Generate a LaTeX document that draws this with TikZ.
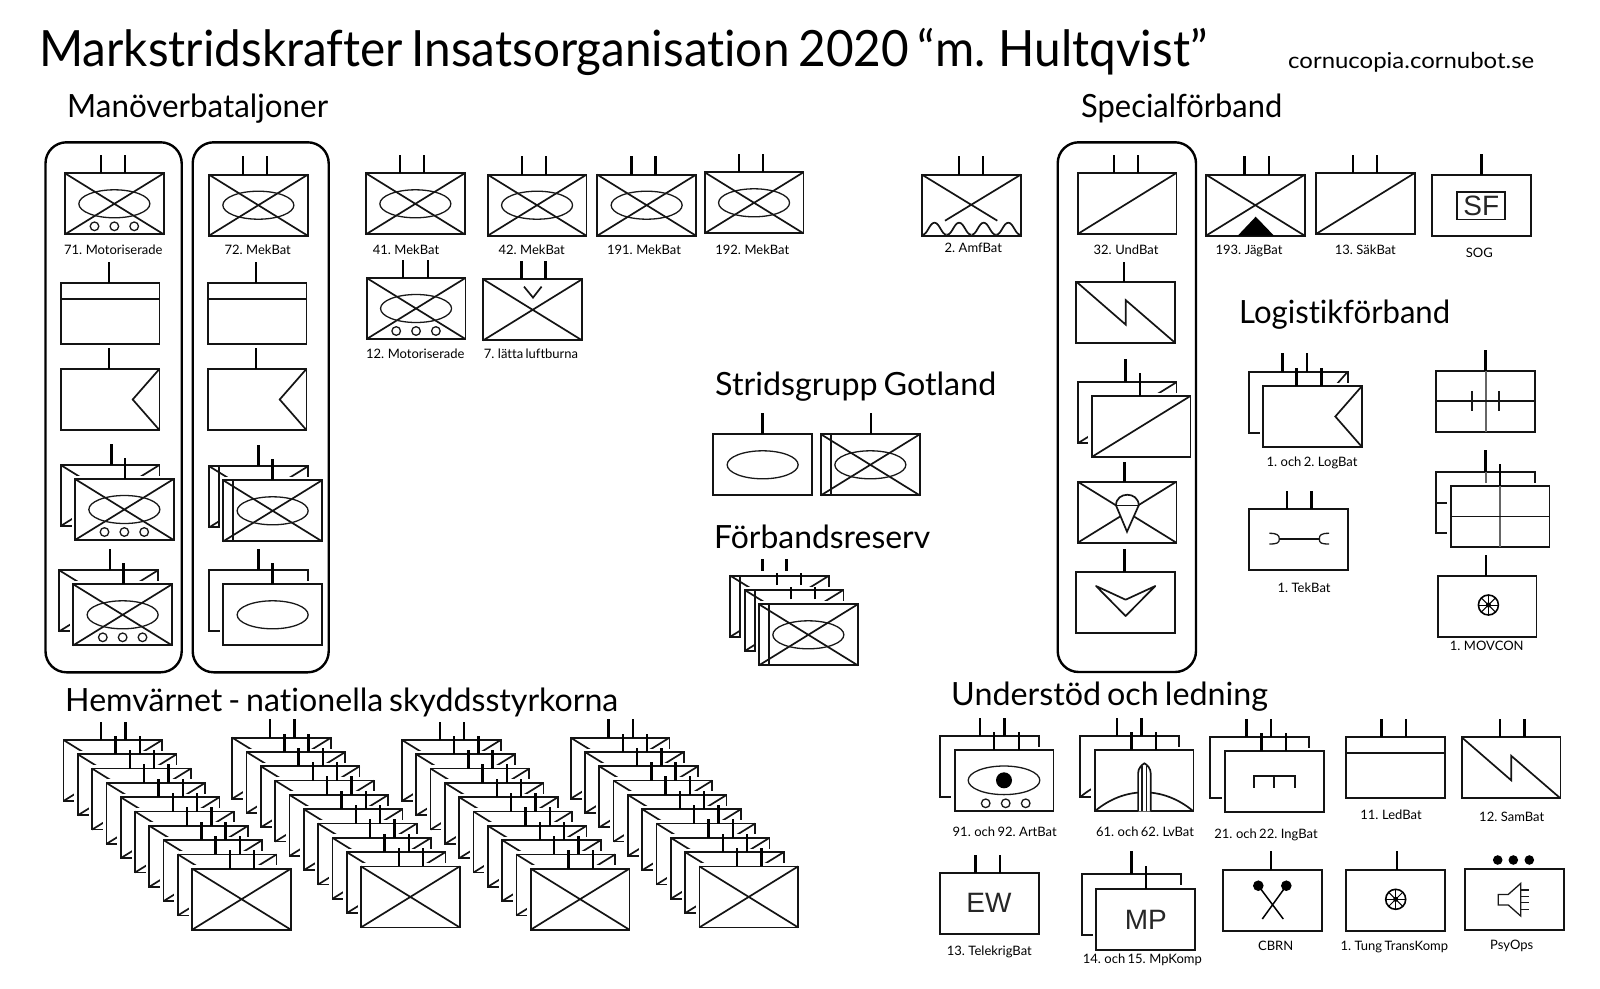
\documentclass[tikz,border=0pt]{standalone}
\usepackage{fontspec}
\usepackage{graphicx}
\setmainfont[Ligatures=CommonOff,WordSpace=0.72]{Lato}
\newfontfamily\arl{Liberation Sans}
\tikzset{
  ln/.style={line width=1.7pt,black!92,line join=miter},
  thn/.style={line width=1.3pt,black!90},
  tk/.style={line width=2.4pt,black},
  lb/.style={inner sep=0pt,anchor=base,font=\fontsize{13}{15}\selectfont},
  cont/.style={line width=2.4pt,black,rounded corners=21pt},
  syt/.style={font=\arl\fontsize{28}{30}\selectfont,inner sep=0pt,text=black!85}
}
\newcommand{\ubox}{\draw[ln,fill=white] (0,0) rectangle (98.7,61);}
\newcommand{\hal}{\fill[white] (-3.5,-3.5) rectangle (102.2,64.5);}
\newcommand{\xxx}{\draw[ln] (0,0)--(98.7,61) (98.7,0)--(0,61);}
\newcommand{\ovl}{\draw[thn] (49.35,30.5) ellipse [x radius=35.5,y radius=14];}
\newcommand{\whl}{\draw[thn] (29.5,53) circle [radius=4.3] (49.35,53) circle [radius=4.3] (69.2,53) circle [radius=4.3];}
\newcommand{\vbr}{\draw[ln] (10,0)--(10,61);}
\newcommand{\hbr}{\draw[ln] (0,16)--(98.7,16);}
\newcommand{\dgl}{\draw[ln] (0,61)--(98.7,0);}
\newcommand{\ntc}{\draw[ln] (98.7,0)--(72,30.5)--(98.7,61);}
\newcommand{\sgnl}{\draw[ln] (0,0)--(49.5,43)--(49.5,18.5)--(98.7,61);}
\newcommand{\grd}{\draw[ln,black!60] (49.35,0)--(49.35,61);\draw[ln] (0,30.5)--(98.7,30.5);}
\newcommand{\tkk}[1]{\draw[tk] (#1,0)--(#1,-18.5);}
\newcommand{\tks}[1]{\draw[tk] (#1,0)--(#1,-21);}
\newcommand{\tkn}[2]{\draw[tk] (#1,0)--(#1,-#2);}
\newcommand{\tkl}[1]{\draw[tk] (#1,-5)--(#1,-17);}
\newcommand{\whe}[2]{\begin{scope}[shift={(#1,#2)}]
  \draw[line width=1.6pt] (0,0) circle [radius=10];
  \foreach \a in {0,45,...,315} \draw[line width=1pt] (0,0)--(\a:10pt);
  \fill (0,0) circle [radius=2.6];
  \end{scope}}
% a symbol, and a symbol standing in front of another one
\newcommand{\Sym}[3]{\begin{scope}[shift={(#1,#2)}]\ubox #3\end{scope}}
\newcommand{\Fro}[3]{\begin{scope}[shift={(#1,#2)}]\hal\ubox #3\end{scope}}
\newcommand{\lab}[4]{\node[lb] (#1) at (#2,#3) {#4};}
\newcommand{\ttl}[6]{\node[inner sep=0pt,anchor=base west] (#1) at (#2,#3) {\resizebox{#4pt}{\height}{\fontsize{#5}{#5}\selectfont #6}};}
\begin{document}
\begin{tikzpicture}[x=1pt,y=-1pt]
\useasboundingbox (0,0) rectangle (1600,988);
\fill[white] (0,0) rectangle (1600,988);

% ---- titles
\ttl{title}{39}{66.5}{1168}{50}{Markstridskrafter Insatsorganisation 2020 “m. Hultqvist”}
\ttl{site}{1288}{68}{246}{22}{cornucopia.cornubot.se}
\ttl{manov}{67}{117}{261}{32}{Manöverbataljoner}
\ttl{spec}{1081}{117}{201}{32}{Specialförband}
\ttl{logi}{1239}{323.5}{211}{32}{Logistikförband}
\ttl{strid}{715}{395}{281}{32}{Stridsgrupp Gotland}
\ttl{forb}{714}{548.5}{216}{32}{Förbandsreserv}
\ttl{hemv}{65}{711}{553}{32}{Hemvärnet - nationella skyddsstyrkorna}
\ttl{unde}{951}{705}{317}{32}{Understöd och ledning}

% ---- containers
\draw[cont] (45.5,142.3) rectangle (181.7,672.3);
\draw[cont] (192.7,142.3) rectangle (328.7,672.3);
\draw[cont] (1057.7,142.3) rectangle (1196,672);

% ---- column 1
\Sym{65}{173.3}{\xxx\ovl\whl\tkk{36}\tkk{60}}
\lab{l71}{113.3}{254}{71. Motoriserade}
\Sym{60.7}{283.3}{\hbr\tks{48.5}}
\Sym{60.7}{369}{\ntc\tks{48.5}}
\Sym{60.7}{465}{\xxx\tks{50.6}}
\Fro{75}{479}{\xxx\ovl\whl\tks{50}}
\Sym{59.3}{570.3}{\xxx\tks{50.6}}
\Fro{73.3}{584.3}{\xxx\ovl\whl\tks{50}}

% ---- column 2
\Sym{209}{174.7}{\xxx\ovl\tkk{34}\tkk{58}}
\lab{l72}{257.7}{254}{72. MekBat}
\Sym{207.7}{283.3}{\hbr\tks{48.5}}
\Sym{207.7}{369}{\ntc\tks{48.5}}
\Sym{209.3}{466.3}{\xxx\vbr\tks{49}}
\Fro{223.3}{480.3}{\xxx\vbr\ovl\tks{49}}
\Sym{209.3}{570.3}{\ovl\tks{49}}
\Fro{223.3}{584.3}{\ovl\tks{49}}

% ---- middle block
\Sym{366}{173.3}{\xxx\ovl\tkk{34}\tkk{58}}
\lab{l41}{406}{254}{41. MekBat}
\Sym{487.7}{174.7}{\xxx\ovl\tkk{34}\tkk{58}}
\lab{l42}{531.7}{254}{42. MekBat}
\Sym{597.3}{174.7}{\xxx\ovl\tkk{34}\tkk{58}}
\lab{l191}{644}{254}{191. MekBat}
\Sym{704.7}{172.3}{\xxx\ovl\tkk{34}\tkk{58}}
\lab{l192}{752.3}{254}{192. MekBat}
\Sym{366.7}{278}{\xxx\ovl\whl\tkk{36.5}\tkk{61}}
\lab{l12}{415.3}{358.3}{12. Motoriserade}
\Sym{483.3}{279.3}{\xxx\draw[ln] (40.7,7.3)--(49.7,18.3)--(58.3,7.3);\tkk{38}\tkk{62}}
\lab{l7}{531}{358.3}{7. lätta luftburna}

% ---- Gotland
\Sym{713.3}{434.3}{\ovl\tks{49}}
\Sym{821}{434.3}{\xxx\vbr\ovl\tks{50}}

% ---- reserve
\Sym{730.3}{575.7}{\xxx\vbr\tkl{32}\tkl{56}}
\Fro{744.7}{590}{\xxx\vbr\tkl{32}\tkl{56}}
\Fro{759}{604.3}{\xxx\vbr\ovl\tkl{32}\tkl{56}}

% ---- special column
\Sym{922}{174.7}{
  \draw[ln] (0,0)--(75.3,46) (98.7,0)--(23,46);
  \foreach \k in {0,1,2,3} {
    \begin{scope}[shift={(\k*24.6+0.5,0)}]
      \draw[ln] (0,60) .. controls (5,60) and (7,48) .. (12,48) .. controls (17,48) and (19,60) .. (24,60);
    \end{scope}}
  \tkk{36.7}\tkk{60.7}}
\lab{l2}{973.3}{252.5}{2. AmfBat}
\Sym{1077.7}{173}{\dgl\tkk{36}\tkk{60}}
\lab{l32}{1126}{254}{32. UndBat}
\Sym{1076.3}{281.7}{\sgnl\tkn{47.7}{20}}
\Sym{1077.7}{382.3}{\dgl\tkn{47.7}{23.5}}
\Fro{1091.7}{396}{\dgl\tkn{48}{23.5}}
\Sym{1077.7}{481.7}{\xxx
  \draw[ln,fill=white] (38.3,23.7) .. controls (38.3,9.5) and (61,9.5) .. (61,23.7) -- (49.3,50) -- cycle;
  \draw[ln] (38.3,23.7)--(61,23.7);
  \tkn{46.7}{20}}
\Sym{1076.3}{571.7}{\draw[ln,line join=round] (19.7,14.3)--(49.3,44.3)--(79,14.3)--(49.3,28)--cycle;\tkn{48}{23}}

% ---- right of column
\Sym{1206}{174.7}{\xxx\fill (49.7,42)--(31.7,61)--(68,61)--cycle;\tkk{38.3}\tkk{62.7}}
\lab{l193}{1249}{254.5}{193. JägBat}
\Sym{1316}{173}{\dgl\tkk{36.7}\tkk{60.7}}
\lab{l13}{1365.3}{254.5}{13. SäkBat}
\Sym{1432}{174.7}{\draw[ln] (25.3,17) rectangle (73.3,44.7);\node[syt] (sf) at (49.3,31) {SF};\tkn{49.3}{20.3}}
\lab{lsog}{1479.3}{257}{SOG}

% ---- logistics
\Sym{1249}{371.7}{\ntc\tkk{33.3}\tkk{58}}
\Fro{1263.3}{386}{\ntc\tkk{33.3}\tkk{58}}
\lab{llog}{1312}{466.5}{1. och 2. LogBat}
\Sym{1249}{509}{\draw[ln] (30.3,30)--(70.3,30);
  \draw[thn] (20.3,24.3) .. controls (28,24.3) and (30.3,26) .. (30.3,30) .. controls (30.3,34) and (28,35) .. (20.3,35);
  \draw[thn] (80,24.3) .. controls (72,24.3) and (70.3,26) .. (70.3,30) .. controls (70.3,34) and (72,35) .. (80,35);
  \tkk{38}\tkk{62.3}}
\lab{ltek}{1304}{592.8}{1. TekBat}
\Sym{1436.3}{370.7}{\grd\draw[thn] (35.7,20.3)--(35.7,40.3) (62.7,20.3)--(62.7,40.3);\tks{49.35}}
\Sym{1436.3}{472.3}{\grd\tkn{49.35}{22}}
\Fro{1450.7}{486}{\grd\tkn{49.35}{22}}
\Sym{1437.7}{576}{\whe{50.7}{29}\tks{48}}
\lab{lmov}{1486.7}{650.5}{1. MOVCON}

% ---- support row 1
\Sym{940.3}{736}{\tkk{39.7}\tkk{64}}
\Fro{954.7}{750.3}{
  \draw[thn] (49.3,30) ellipse [x radius=35.8,y radius=14.3];
  \fill (49.3,30) circle [radius=8];
  \draw[thn] (31,53) circle [radius=4.3] (51,53) circle [radius=4.3] (71,53) circle [radius=4.3];
  \tkk{39.3}\tkk{64}}
\lab{lart}{1004.7}{836.2}{91. och 92. ArtBat}
\Sym{1080.3}{736}{\draw[ln] (0,61) .. controls (30,35.7) and (68.7,35.7) .. (98.7,61);\tkk{36.7}\tkk{61}}
\Fro{1094.7}{750.3}{
  \draw[ln] (0,61) .. controls (30,35.7) and (68.7,35.7) .. (98.7,61);
  \draw[ln,fill=white] (43.4,61)--(43.4,23) .. controls (43.4,18) and (47,14.5) .. (49.7,13) .. controls (52.4,14.5) and (56,18) .. (56,23) -- (56,61);
  \draw[thn] (47.4,61)--(47.4,16) (52,61)--(52,16);
  \tkk{36.7}\tkk{61}}
\lab{llv}{1145}{836.2}{61. och 62. LvBat}
\Sym{1210.3}{737.3}{\tkk{36.3}\tkk{60.7}}
\Fro{1225}{751.3}{\draw[ln] (28.7,36.3)--(28.7,24.7)--(70.3,24.7)--(70.3,36.3) (49.3,24.7)--(49.3,36.3);\tkk{36.3}\tkk{60.7}}
\lab{ling}{1266}{838.2}{21. och 22. IngBat}
\Sym{1346}{737.3}{\hbr\tkk{35.3}\tkk{59.7}}
\lab{lled}{1391}{819.8}{11. LedBat}
\Sym{1461.7}{737.3}{\sgnl\tkk{38.3}\tkk{62.7}}
\lab{lsam}{1511.7}{821.2}{12. SamBat}

% ---- support row 2
\Sym{940.3}{873}{\node[syt] (ew) at (48.7,30.3) {EW};\tkk{35.3}\tkk{59.7}}
\lab{lew}{989.3}{955.2}{13. TelekrigBat}
\Sym{1082.3}{874}{\tkn{49}{23}}
\Fro{1096.3}{888.7}{\node[syt] (mp) at (49.5,31) {MP};\tkn{49.7}{23}}
\lab{lmp}{1142.3}{963.8}{14. och 15. MpKomp}
\Sym{1223.3}{870}{
  \draw[line width=1.5pt] (35,15.7)--(60,49) (63,15.7)--(39,49);
  \fill (35,15.7) circle [radius=5.3] (63,15.7) circle [radius=5.3];
  \tkn{47.7}{19}}
\lab{lcb}{1275.7}{950.5}{CBRN}
\Sym{1346}{870}{\whe{49.7}{29.3}\tkn{51}{19}}
\lab{ltu}{1394.3}{950.5}{1. Tung TransKomp}
\Sym{1465}{868.7}{
  \draw[thn] (33.3,25.7)--(43.3,25.7)--(55.7,14.7)--(55.7,47.3)--(43.3,36.3)--(33.3,36.3)--cycle;
  \draw[thn] (55.7,21.3)--(64.3,21.3) (55.7,28)--(64.3,28) (55.7,34)--(64.3,34) (55.7,40.7)--(64.3,40.7);
  \fill (32.7,-8.7) circle [radius=4.8] (48.3,-8.7) circle [radius=4.8] (64.3,-8.7) circle [radius=4.8];}
\lab{lpsy}{1511.7}{949.2}{PsyOps}

% ---- Hemvärnet stacks
\foreach \gx/\gy in {63.5/740, 232.3/737.7, 402/740, 570.7/737.7} {
  \foreach \k in {0,...,9} {
    \begin{scope}[shift={(\gx+\k*14.3,\gy+\k*14.3)}]
      \hal\ubox\xxx\tkk{37.7}\tkk{62}
    \end{scope}}
}
\end{tikzpicture}
\end{document}
